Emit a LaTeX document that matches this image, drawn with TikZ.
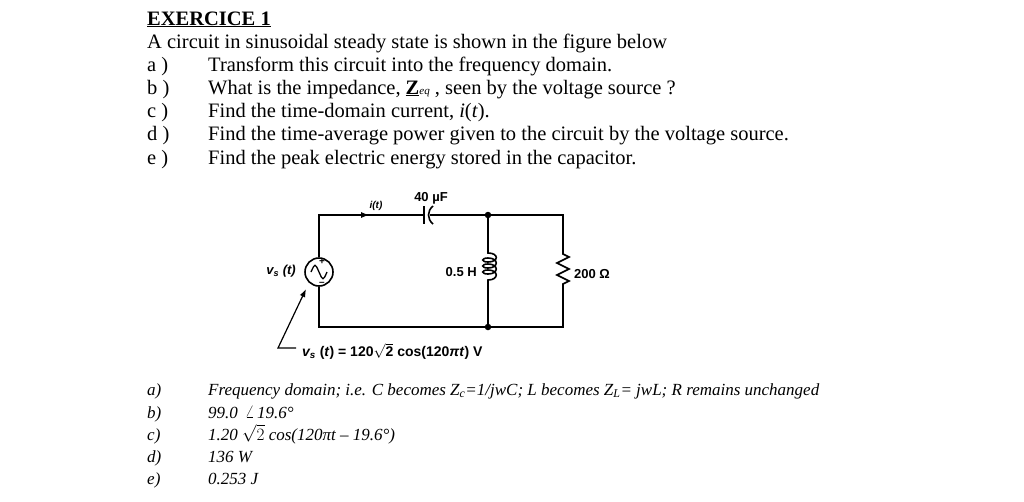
\documentclass[tikz,border=0pt]{standalone}
\usepackage{fontspec}
\setmainfont{Liberation Serif}
\newfontfamily\cfont{Liberation Sans}
\usetikzlibrary{arrows.meta}
\begin{document}
\begin{tikzpicture}[x=1pt,y=-1pt,
  txt/.style={anchor=base west,inner sep=0,font=\fontsize{20.5}{24}\selectfont},
  itx/.style={anchor=base west,inner sep=0,font=\fontsize{17}{20}\selectfont\itshape},
  lab/.style={inner sep=0,font=\cfont\bfseries\fontsize{13}{15}\selectfont},
  wire/.style={line width=1.6pt},
  dot/.style={circle,fill,inner sep=2.3pt}]
\useasboundingbox (0,0) rectangle (1024,501);
\node[txt,font=\bfseries\fontsize{20.5}{24}\selectfont] (t0) at (147,25) {\underline{EXERCICE 1}};
\node[txt] (t1) at (147,48) {A circuit in sinusoidal steady state is shown in the figure below};
\foreach \l/\y/\s [count=\i] in {a )/71/{Transform this circuit into the frequency domain.},
  b )/94/{What is the impedance, \textbf{\underline{Z}}{\fontsize{11}{11}\selectfont\itshape eq} , seen by the voltage source ?},
  c )/117/{Find the time-domain current, \textit{i}(\textit{t}).},
  d )/140/{Find the time-average power given to the circuit by the voltage source.},
  e )/164/{Find the peak electric energy stored in the capacitor.}}{
  \node[txt] (q\i) at (147,\y) {\l};
  \node[txt] (qs\i) at (208,\y) {\s};
}
% circuit
\coordinate (tl) at (319,215); \coordinate (bl) at (319,327);
\coordinate (tm) at (488,215); \coordinate (bm) at (488,327);
\coordinate (tr) at (563,215); \coordinate (br) at (563,327);
\node[circle,draw,line width=1.6pt,minimum size=28pt,inner sep=0] (src) at (319,272) {};
\draw[line width=1.3pt] ([xshift=-8pt]src.center) .. controls +(4,-9) and +(-4,-9) .. (src.center) .. controls +(4,9) and +(-4,9) .. ([xshift=8pt]src.center);
\node[lab,font=\cfont\bfseries\fontsize{10}{10}\selectfont] (plus) at (322,262) {+};
\node[lab,font=\cfont\bfseries\fontsize{10}{10}\selectfont] (minus) at (322,284) {–};
\coordinate (c1) at (424,215); \coordinate (c2) at (430,215);
\draw[wire] (src.north) -- (tl) -- (c1);
\draw[wire] (c1) ++(0,-9) -- ++(0,18);
\draw[wire] (c2) ++(3,-9) .. controls +(-6,5) and +(-6,-5) .. ++(0,18);
\draw[wire] (c2) -- (tm) -- (tr) -- (563,250);
\draw[-{Latex[length=8pt,width=6pt]},line width=0.8pt] (352,215) -- (369,215);
\draw[wire] (563,250) -- (563,254) -- (569,257) -- (557,263) -- (569,269) -- (557,275) -- (569,281) -- (563,284) -- (563,290) -- (br) -- (bm) -- (bl) -- (src.south);
\draw[wire] (tm) -- (488,253)
  .. controls (499,253) and (499,262) .. (488,262)
  .. controls (481,262) and (481,258) .. (488,258)
  .. controls (499,258) and (499,268) .. (488,268)
  .. controls (481,268) and (481,264) .. (488,264)
  .. controls (499,264) and (499,274) .. (488,274)
  .. controls (481,274) and (481,270) .. (488,270)
  .. controls (499,270) and (499,280) .. (488,280)
  -- (bm);
\node[dot] (d1) at (tm) {}; \node[dot] (d2) at (bm) {};
\node[lab] (lc) at (431,198) {40 µF};
\node[lab,font=\cfont\bfseries\itshape\fontsize{10}{10}\selectfont] (li) at (376,206) {i(t)};
\node[lab,anchor=east] (ll) at (477,272) {0.5 H};
\node[lab,anchor=west] (lr) at (574,274) {200 Ω};
\node[lab,anchor=east] (lv) at (296,271) {\itshape v\textsubscript{s} (t)};
\coordinate (ak) at (278,348);
\draw[line width=1.2pt,-{Latex[length=8pt,width=6pt]}] (296,348) -- (ak) -- (306,289);
\node[lab,anchor=west,font=\cfont\bfseries\fontsize{14}{16}\selectfont] (lf) at (302,351) {\itshape v\textsubscript{s}\upshape\ (\textit{t}) = 120$\sqrt{\mbox{\textbf{2}}}$ cos(120\textit{πt}) V};
% answers
\foreach \l/\y/\s [count=\i] in {a)/395/{Frequency domain; i.e. C becomes Z\textsubscript{c}=1/jwC; L becomes Z\textsubscript{L}= jwL; R remains unchanged},
  b)/418/{99.0\ \,\raisebox{1pt}{$\angle$}\,19.6°},
  c)/440/{1.20 $\sqrt{2}$ cos(120πt – 19.6°)},
  d)/462/{136 W},
  e)/484/{0.253 J}}{
  \node[itx] (a\i) at (147,\y) {\l};
  \node[itx] (as\i) at (208,\y) {\s};
}
\end{tikzpicture}
\end{document}
